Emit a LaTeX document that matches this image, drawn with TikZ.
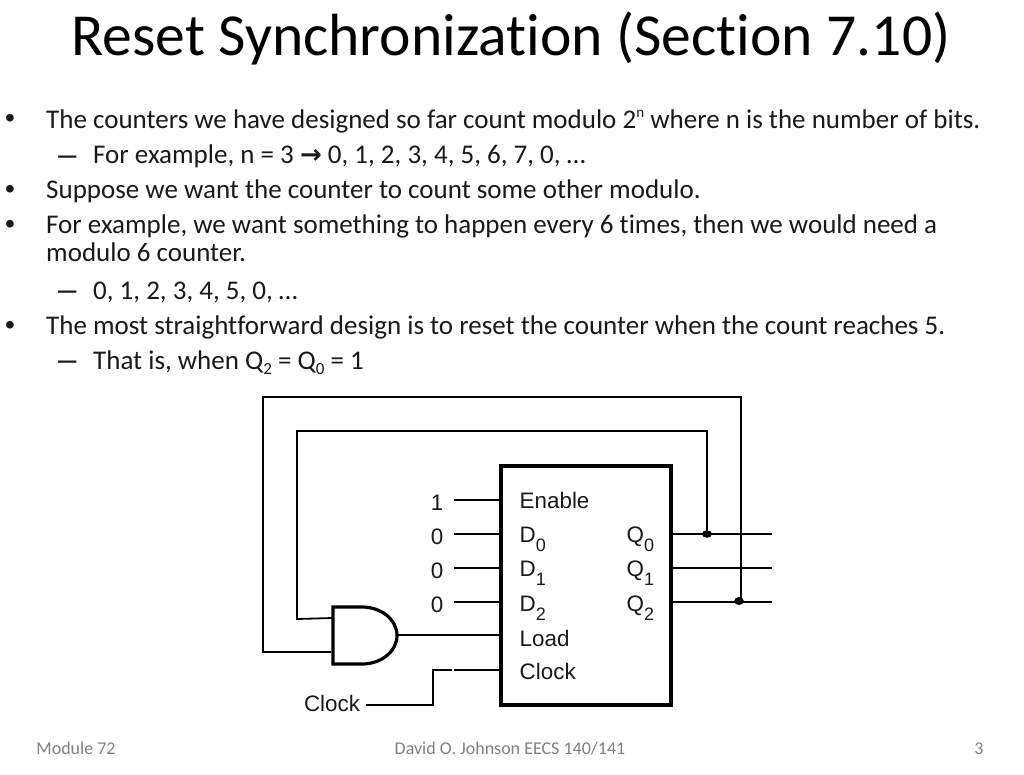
\documentclass[tikz,border=0pt]{standalone}
\usepackage{fontspec}
\setmainfont[Ligatures=NoCommon]{Carlito}
\newfontfamily\arialf{Liberation Sans}
\newfontfamily\dejavu{DejaVu Sans}
\newcommand{\subd}[1]{\raisebox{-0.42em}{\fontsize{18}{18}\selectfont #1}}
\newcommand{\subb}[1]{\raisebox{-0.2em}{\fontsize{17}{17}\selectfont #1}}
\newcommand{\lbul}{{\arialf\fontsize{28}{28}\selectfont •}}
\newcommand{\ldash}{\raisebox{-1.5pt}{\arialf\fontsize{33}{33}\selectfont –}}
\tikzset{
 wire/.style={line width=1.8pt,black},
 bul/.style={anchor=base west,font=\fontsize{27}{27}\selectfont,inner sep=0pt,text=black!90},
 tt/.style={anchor=base,font=\arialf\fontsize{22.4}{22.4}\selectfont,inner sep=0pt,text=black!90},
 foot/.style={anchor=base,font=\fontsize{18}{18}\selectfont,inner sep=0pt,text=black!50},
}
\begin{document}
\begin{tikzpicture}[x=1pt,y=-1pt]
\useasboundingbox (0,0) rectangle (1024,775);
\node[anchor=base,inner sep=0pt,font=\fontsize{59.6}{60}\selectfont] (title) at (511,56) {Reset Synchronization (Section 7.10)};
\node[bul] (b1) at (5,128) {\lbul};
\node[bul] (t1) at (46,129) {The counters we have designed so far count modulo 2\raisebox{0.42em}{\fontsize{15}{15}\selectfont n} where n is the number of bits.};
\node[bul] (d1) at (58,164) {\ldash};
\node[bul] (t2) at (93,164) {For example, n = 3 {\dejavu\bfseries\fontsize{26}{26}\selectfont →} 0, 1, 2, 3, 4, 5, 6, 7, 0, …};
\node[bul] (b3) at (5,199) {\lbul};
\node[bul] (t3) at (46,199) {Suppose we want the counter to count some other modulo.};
\node[bul] (b4) at (5,234) {\lbul};
\node[bul] (t4) at (46,234) {For example, we want something to happen every 6 times, then we would need a};
\node[bul] (t4b) at (46,262) {modulo 6 counter.};
\node[bul] (d5) at (58,299) {\ldash};
\node[bul] (t5) at (93,299) {0, 1, 2, 3, 4, 5, 0, …};
\node[bul] (b6) at (5,334) {\lbul};
\node[bul] (t6) at (46,334) {The most straightforward design is to reset the counter when the count reaches 5.};
\node[bul] (d7) at (58,369) {\ldash};
\node[bul] (t7) at (93,369) {That is, when Q\subb{2} = Q\subb{0} = 1};
\draw[line width=3.4pt] (501,466) rectangle (671,705);
\node[tt,anchor=base west] (en) at (519.5,508) {Enable};
\node[tt,anchor=base west] (d0) at (519.5,542) {D\subd{0}};
\node[tt,anchor=base west] (d1l) at (519.5,576) {D\subd{1}};
\node[tt,anchor=base west] (d2l) at (519.5,611) {D\subd{2}};
\node[tt,anchor=base west] (load) at (519.5,646) {Load};
\node[tt,anchor=base west] (clk) at (519.5,679) {Clock};
\node[tt,anchor=base west] (q0) at (626.5,542) {Q\subd{0}};
\node[tt,anchor=base west] (q1) at (626.5,576) {Q\subd{1}};
\node[tt,anchor=base west] (q2) at (626.5,611) {Q\subd{2}};
\node[tt] (v1) at (437,510) {1};
\node[tt] (v2) at (437,544) {0};
\node[tt] (v3) at (437,578) {0};
\node[tt] (v4) at (437,612) {0};
\node[tt] (cl) at (332,711) {Clock};
\draw[wire] (454,500)--(501,500);
\draw[wire] (454,534)--(501,534);
\draw[wire] (454,568)--(501,568);
\draw[wire] (454,602)--(501,602);
\draw[wire] (397,635)--(501,635);
\draw[wire] (366,705)--(433,705)--(433,670)--(452,670);
\draw[wire] (454,670)--(501,670);
\draw[wire] (671,534)--(772,534);
\draw[wire] (671,568)--(772,568);
\draw[wire] (671,602)--(772,602);
\draw[wire] (707,534)--(707,431)--(297,431)--(297,619)--(333,618);
\draw[wire] (739,602)--(741,602)--(741,397)--(263,397)--(263,652)--(331,652);
\fill (707,534) ellipse (5 and 3.8);
\fill (739,601) ellipse (4.8 and 4);
\draw[line width=3.2pt] (333,607)--(362,607) arc (-90:90:35 and 28.5)--(333,664)--cycle;
\node[foot] (m) at (76,754) {Module 72};
\node[foot] (a) at (510,754) {David O. Johnson EECS 140/141};
\node[foot] (p) at (979,754) {3};
\end{tikzpicture}
\end{document}
